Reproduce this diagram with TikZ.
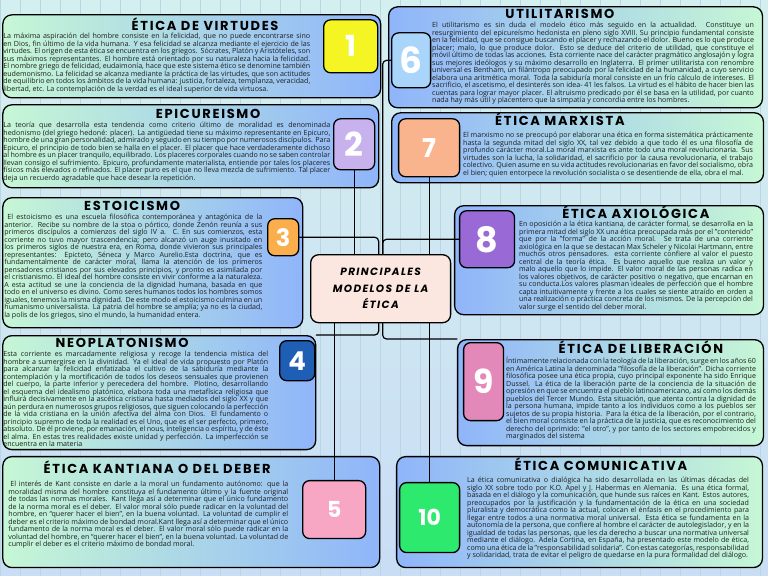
\documentclass[tikz,border=0pt]{standalone}
\usepackage{fontspec}
\setmainfont{Open Sans}
\newfontfamily\titlefont{Poppins}[LetterSpace=13]
\newfontfamily\numfont{Poppins}
\usetikzlibrary{calc}
\hyphenpenalty=10000
\exhyphenpenalty=10000
\tolerance=9999
\emergencystretch=20pt

\definecolor{bgtop}{HTML}{D4EFEF}
\definecolor{bgbot}{HTML}{C9DDF5}
\definecolor{gridcol}{HTML}{B9D6E2}
\definecolor{pgreen}{HTML}{C6F7D5}
\definecolor{pblue}{HTML}{8FB5FA}
\definecolor{ccol}{HTML}{FBE7E0}
\definecolor{txtcol}{HTML}{1C1C1C}
\definecolor{col1}{HTML}{F5F523}
\definecolor{col2}{HTML}{C8B2EE}
\definecolor{col3}{HTML}{FBAF4C}
\definecolor{col4}{HTML}{1E5EB4}
\definecolor{col5}{HTML}{F7A7C4}
\definecolor{col6}{HTML}{A9D5FA}
\definecolor{col7}{HTML}{F9B48D}
\definecolor{col8}{HTML}{996AD6}
\definecolor{col9}{HTML}{E389B9}
\definecolor{col10}{HTML}{2DEA6F}

\tikzset{
  panelL/.style={draw=black, line width=1.3pt, rounded corners=9pt, left color=pgreen, right color=pblue, anchor=north west, inner sep=0},
  panelR/.style={draw=black, line width=1.3pt, rounded corners=9pt, left color=pblue, right color=pgreen, anchor=north west, inner sep=0},
  badge/.style={draw=black, line width=1.3pt, rounded corners=7pt, anchor=north west, inner sep=0, text=white},
  ttl/.style={font=\titlefont\bfseries\fontsize{13}{15}\selectfont, inner sep=0, text=black},
  body/.style={anchor=north west, inner sep=0, align=justify, font=\fontsize{7.1}{7.5}\selectfont, text=txtcol},
  link/.style={line width=1.2pt, rounded corners=4pt}
}

\begin{document}
\begin{tikzpicture}[x=1pt, y=-1pt, line join=round, line cap=round]
  % background
  \fill[top color=bgtop, bottom color=bgbot] (0,0) rectangle (768,576);
  \draw[gridcol, line width=0.4pt, step=20] (0,0) grid (768,576);
  \useasboundingbox (0,0) rectangle (768,576);

  % panels
  \node[panelL, minimum width=378pt, minimum height=83pt] (p1) at (2,14) {};
  \node[panelL, minimum width=376pt, minimum height=83pt] (p2) at (2,104) {};
  \node[panelL, minimum width=300pt, minimum height=130pt] (p3) at (2,197) {};
  \node[panelL, minimum width=313pt, minimum height=114pt] (p4) at (2,335) {};
  \node[panelL, minimum width=377pt, minimum height=111pt] (p5) at (2,456) {};
  \node[panelR, minimum width=374pt, minimum height=101pt] (p6) at (388,6) {};
  \node[panelR, minimum width=372pt, minimum height=70pt] (p7) at (391,112) {};
  \node[panelR, minimum width=309pt, minimum height=109pt] (p8) at (454,205) {};
  \node[panelR, minimum width=306pt, minimum height=106pt] (p9) at (457,339) {};
  \node[panelR, minimum width=366pt, minimum height=111pt] (p10) at (396,456) {};

  % titles
  \node[ttl] (t1) at (205,24) {ÉTICA DE VIRTUDES};
  \node[ttl] (t2) at (208,113.5) {EPICUREISMO};
  \node[ttl] (t3) at (132,205.5) {ESTOICISMO};
  \node[ttl] (t4) at (122,342.5) {NEOPLATONISMO};
  \node[ttl] (t5) at (157,467.5) {ÉTICA KANTIANA O DEL DEBER};
  \node[ttl] (t6) at (560,14) {UTILITARISMO};
  \node[ttl] (t7) at (560,119.5) {ÉTICA MARXISTA};
  \node[ttl] (t8) at (636,212) {ÉTICA AXIOLÓGICA};
  \node[ttl] (t9) at (641,347) {ÉTICA DE LIBERACIÓN};
  \node[ttl] (t10) at (601,464) {ÉTICA COMUNICATIVA};

  % texts
  \node[body, text width=307pt] (x1) at (3,33) {La máxima aspiración del hombre consiste en la felicidad, que no puede encontrarse sino en Dios, fin último de la vida humana. Y esa felicidad se alcanza mediante el ejercicio de las virtudes. El origen de esta ética se encuentra en los griegos.\ \ Sócrates, Platón y Aristóteles, son sus máximos representantes. El hombre está orientado por su naturaleza hacia la felicidad. El nombre griego de felicidad, eudaimonía, hace que este sistema ético se denomine también eudemonismo. La felicidad se alcanza mediante la práctica de las virtudes, que son actitudes de equilibrio en todos los ámbitos de la vida humana: justicia, fortaleza, templanza, veracidad, libertad, etc. La contemplación de la verdad es el ideal superior de vida virtuosa.};
  \node[body, text width=327pt] (x2) at (3,122) {La teoría que desarrolla esta tendencia como criterio último de moralidad es denominada hedonismo (del griego hedoné: placer). La antigüedad tiene su máximo representante en Epicuro, hombre de una gran personalidad, admirado y seguido en su tiempo por numerosos discípulos. Para Epicuro, el principio de todo bien se halla en el placer. El placer que hace verdaderamente dichoso al hombre es un placer tranquilo, equilibrado. Los placeres corporales cuando no se saben controlar llevan consigo el sufrimiento. Epicuro, profundamente materialista, entiende por tales los placeres físicos más elevados o refinados. El placer puro es el que no lleva mezcla de sufrimiento. Tal placer deja un recuerdo agradable que hace desear la repetición.};
  \node[body, text width=258pt] (x3) at (4,214) {\hspace*{3pt}El estoicismo es una escuela filosófica contemporánea y antagónica de la anterior. Recibe su nombre de la stoa o pórtico, donde Zenón reunía a sus primeros discípulos a comienzos del siglo IV a. C. En sus comienzos, esta corriente no tuvo mayor trascendencia; pero alcanzó un auge inusitado en los primeros siglos de nuestra era, en Roma, donde vivieron sus principales representantes: Epicteto, Séneca y Marco Aurelio.Esta doctrina, que es fundamentalmente de carácter moral, llama la atención de los primeros pensadores cristianos por sus elevados principios, y pronto es asimilada por el cristianismo. El ideal del hombre consiste en vivir conforme a la naturaleza. A esta actitud se une la conciencia de la dignidad humana, basada en que todo en el universo es divino. Como seres humanos todos los hombres somos iguales, tenemos la misma dignidad.\ \ De este modo el estoicismo culmina en un humanismo universalista. La patria del hombre se amplía; ya no es la ciudad, la polis de los griegos, sino el mundo, la humanidad entera.};
  \node[body, text width=265pt] (x4) at (3,351) {Esta corriente es marcadamente religiosa y recoge la tendencia mística del hombre a sumergirse en la divinidad. Ya el ideal de vida propuesto por Platón para alcanzar la felicidad enfatizaba el cultivo de la sabiduría mediante la contemplación y la mortificación de todos los deseos sensuales que provienen del cuerpo, la parte inferior y perecedera del hombre. Plotino, desarrollando el esquema del idealismo platónico, elabora toda una metafísica religiosa que influirá decisivamente en la ascética cristiana hasta mediados del siglo XX y que aún perdura en numerosos grupos religiosos, que siguen colocando la perfección de la vida cristiana en la unión afectiva del alma con Dios. El fundamento o principio supremo de toda la realidad es el Uno, que es el ser perfecto, primero, absoluto. De él proviene, por emanación, el nous, inteligencia o espíritu, y de éste el alma. En estas tres realidades existe unidad y perfección. La imperfección se encuentra en la materia};
  \node[body, text width=280pt] (x5) at (8,481) {\hspace*{2pt}El interés de Kant consiste en darle a la moral un fundamento autónomo: que la moralidad misma del hombre constituya el fundamento último y la fuente original de todas las normas morales. Kant llega así a determinar que el único fundamento de la norma moral es el deber. El valor moral sólo puede radicar en la voluntad del hombre, en “querer hacer el bien”, en la buena voluntad. La voluntad de cumplir el deber es el criterio máximo de bondad moral.Kant llega así a determinar que el único fundamento de la norma moral es el deber. El valor moral sólo puede radicar en la voluntad del hombre, en “querer hacer el bien”, en la buena voluntad. La voluntad de cumplir el deber es el criterio máximo de bondad moral.};
  \node[body, text width=322pt] (x6) at (432,22) {El utilitarismo es sin duda el modelo ético más seguido en la actualidad. Constituye un resurgimiento del epicureísmo hedonista en pleno siglo XVIII. Su principio fundamental consiste en la felicidad, que se consigue buscando el placer y rechazando el dolor. Bueno es lo que produce placer; malo, lo que produce dolor. Esto se deduce del criterio de utilidad, que constituye el móvil último de todas las acciones. Esta corriente nace del carácter pragmático anglosajón y logra sus mejores ideólogos y su máximo desarrollo en Inglaterra. El primer utilitarista con renombre universal es Bentham, un filántropo preocupado por la felicidad de la humanidad, a cuyo servicio elabora una aritmética moral. Toda la sabiduría moral consiste en un frío cálculo de intereses. El sacrificio, el ascetismo, el desinterés son idea- 41 les falsos. La virtud es el hábito de hacer bien las cuentas para lograr mayor placer. El altruismo predicado por él se basa en la utilidad, por cuanto nada hay más útil y placentero que la simpatía y concordia entre los hombres.};
  \node[body, text width=290pt] (x7) at (463,132) {El marxismo no se preocupó por elaborar una ética en forma sistemática prácticamente hasta la segunda mitad del siglo XX, tal vez debido a que todo él es una filosofía de profundo carácter moral.La moral marxista es ante todo una moral revolucionaria. Sus virtudes son la lucha, la solidaridad, el sacrificio por la causa revolucionaria, el trabajo colectivo. Quien asume en su vida actitudes revolucionarias en favor del socialismo, obra el bien; quien entorpece la revolución socialista o se desentiende de ella, obra el mal.};
  \node[body, text width=234pt] (x8) at (519,221) {En oposición a la ética kantiana, de carácter formal, se desarrolla en la primera mitad del siglo XX una ética preocupada más por el "contenido" que por la "forma" de la acción moral. Se trata de una corriente axiológica en la que se destacan Max Scheler y Nicolai Hartmann, entre muchos otros pensadores. esta corriente confiere al valor el puesto central de la teoría ética. Es bueno aquello que realiza un valor y malo aquello que lo impide. El valor moral de las personas radica en los valores objetivos, de carácter positivo o negativo, que encarnan en su conducta.Los valores plasman ideales de perfección que el hombre capta intuitivamente y frente a los cuales se siente atraído en orden a una realización o práctica concreta de los mismos. De la percepción del valor surge el sentido del deber moral.};
  \node[body, text width=250pt] (x9) at (506,357) {Íntimamente relacionada con la teología de la liberación, surge en los años 60 en América Latina la denominada "filosofía de la liberación". Dicha corriente filosófica posee una ética propia, cuyo principal exponente ha sido Enrique Dussel. La ética de la liberación parte de la conciencia de la situación de opresión en que se encuentra el pueblo latinoamericano, así como los demás pueblos del Tercer Mundo. Esta situación, que atenta contra la dignidad de la persona humana, impide tanto a los individuos como a los pueblos ser sujetos de su propia historia.\ \ Para la ética de la liberación, por el contrario, el bien moral consiste en la práctica de la justicia, que es reconocimiento del derecho del oprimido: "el otro", y por tanto de los sectores empobrecidos y marginados del sistema};
  \node[body, text width=282pt] (x10) at (467,477) {La ética comunicativa o dialógica ha sido desarrollada en las últimas décadas del siglo XX sobre todo por K.O. Apel y J. Habermas en Alemania. Es una ética formal, basada en el diálogo y la comunicación, que hunde sus raíces en Kant. Estos autores, preocupados por la justificación y la fundamentación de la ética en una sociedad pluralista y democrática como la actual, colocan el énfasis en el procedimiento para llegar entre todos a una normativa moral universal.\ \ Esta ética se fundamenta en la autonomía de la persona, que confiere al hombre el carácter de autolegislador, y en la igualdad de todas las personas, que les da derecho a buscar una normativa universal mediante el diálogo. Adela Cortina, en España, ha presentado este modelo de ética, como una ética de la "responsabilidad solidaria". Con estas categorías, responsabilidad y solidaridad, trata de evitar el peligro de quedarse en la pura formalidad del diálogo.};

  % central node
  \node[draw=black, line width=1.3pt, rounded corners=8pt, fill=ccol, anchor=north west, inner sep=0,
        minimum width=140pt, minimum height=68pt, align=center,
        font=\titlefont\bfseries\itshape\fontsize{10.5}{16.5}\selectfont] (c) at (310,254)
        {PRINCIPALES\\MODELOS DE LA\\ÉTICA};

  % badges
  \node[badge, fill=col1, minimum width=54pt, minimum height=53pt, font=\numfont\bfseries\fontsize{29}{29}\selectfont] (b1) at (323,19) {1};
  \node[badge, fill=col2, minimum width=41pt, minimum height=51pt, font=\numfont\bfseries\fontsize{33}{33}\selectfont] (b2) at (333,118) {2};
  \node[badge, fill=col3, minimum width=31pt, minimum height=37pt, font=\numfont\bfseries\fontsize{24}{24}\selectfont] (b3) at (267,218) {3};
  \node[badge, fill=col4, minimum width=35pt, minimum height=40pt, font=\numfont\bfseries\fontsize{26}{26}\selectfont] (b4) at (279,340) {4};
  \node[badge, fill=col5, minimum width=63pt, minimum height=58pt, font=\numfont\bfseries\fontsize{22}{22}\selectfont] (b5) at (302,480) {5};
  \node[badge, fill=col6, minimum width=39pt, minimum height=55pt, font=\numfont\bfseries\fontsize{36}{36}\selectfont] (b6) at (391,32) {6};
  \node[badge, fill=col7, minimum width=61pt, minimum height=58pt, font=\numfont\bfseries\fontsize{26}{26}\selectfont] (b7) at (398,118) {7};
  \node[badge, fill=col8, minimum width=55pt, minimum height=57pt, font=\numfont\bfseries\fontsize{35}{35}\selectfont] (b8) at (459,210) {8};
  \node[badge, fill=col9, minimum width=40pt, minimum height=78pt, font=\numfont\bfseries\fontsize{33}{33}\selectfont] (b9) at (463,342) {9};
  \node[badge, fill=col10, minimum width=60pt, minimum height=70pt, font=\numfont\bfseries\fontsize{22}{22}\selectfont] (b10) at (399,482) {10};

  % connectors
  \draw[link] (b3.east) -| ($(c.north)+(-2,0)$);
  \draw[link] (b8.west) -| ($(c.north)+(2,0)$);
  \draw[link] (b6.west) -| ($(c.north)+(2,0)$);
  \draw[link] (b2.south) -- (b2.south |- c.north);
  \draw[link] (b7.south) -- (b7.south |- c.north);
  \draw[link] ($(c.south)+(-2,0)$) |- (p4.north east);
  \draw[link] ($(c.south)+(2,0)$) |- (p9.north west);
  \draw[link] (b5.north |- c.south) -- (b5.north);
  \draw[link] (b10.north |- c.south) -- (b10.north);
\end{tikzpicture}
\end{document}
